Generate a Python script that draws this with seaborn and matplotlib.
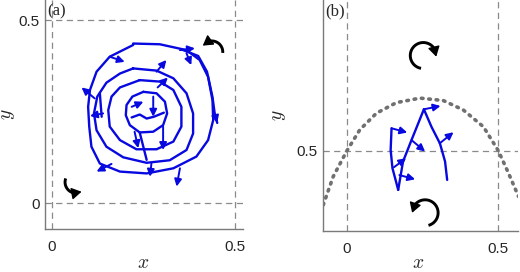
import numpy as np
import pandas as pd
import seaborn as sns
import matplotlib
matplotlib.use("Agg")
import matplotlib.pyplot as plt
from matplotlib.patches import FancyArrowPatch
from matplotlib.transforms import Affine2D, ScaledTranslation

# ---------------- data: panel (a) ----------------
outer_x = [0.222, 0.295, 0.368, 0.404, 0.427, 0.439, 0.441, 0.427, 0.395, 0.332, 0.259, 0.186, 0.131, 0.108, 0.102, 0.099, 0.104, 0.122, 0.158, 0.222]
outer_y = [0.436, 0.434, 0.418, 0.391, 0.345, 0.281, 0.227, 0.172, 0.127, 0.095, 0.081, 0.086, 0.108, 0.154, 0.209, 0.263, 0.309, 0.359, 0.400, 0.432]
rstroke_x = [0.354, 0.400, 0.424, 0.439, 0.445, 0.452]
rstroke_y = [0.420, 0.402, 0.359, 0.290, 0.245, 0.219]
loop2_x = [0.222, 0.286, 0.332, 0.368, 0.386, 0.386, 0.368, 0.322, 0.259, 0.195, 0.149, 0.122, 0.115, 0.124, 0.149, 0.186, 0.222]
loop2_y = [0.368, 0.362, 0.341, 0.300, 0.245, 0.190, 0.145, 0.117, 0.110, 0.125, 0.154, 0.199, 0.245, 0.291, 0.329, 0.354, 0.368]
loop3_x = [0.240, 0.295, 0.332, 0.354, 0.354, 0.332, 0.286, 0.231, 0.186, 0.158, 0.154, 0.163, 0.186, 0.240]
loop3_y = [0.336, 0.332, 0.309, 0.263, 0.209, 0.168, 0.147, 0.147, 0.172, 0.209, 0.254, 0.291, 0.316, 0.336]
inner_x = [0.250, 0.286, 0.309, 0.315, 0.304, 0.277, 0.240, 0.213, 0.202, 0.204, 0.220, 0.250]
inner_y = [0.304, 0.300, 0.277, 0.245, 0.213, 0.195, 0.193, 0.213, 0.240, 0.268, 0.291, 0.304]
squig_x = [0.218, 0.240, 0.259, 0.279, 0.306]
squig_y = [0.234, 0.242, 0.231, 0.236, 0.247]
conn1_x = [0.240, 0.259]
conn1_y = [0.193, 0.118]
conn2_x = [0.131, 0.136]
conn2_y = [0.300, 0.236]

# arrows (start x, start y, end x, end y)
arr_a_x0 = [0.158, 0.286, 0.289, 0.117, 0.140, 0.277, 0.218, 0.226, 0.304, 0.272, 0.350, 0.163, 0.445, 0.350, 0.368]
arr_a_y0 = [0.400, 0.359, 0.316, 0.286, 0.245, 0.291, 0.263, 0.195, 0.209, 0.108, 0.095, 0.107, 0.245, 0.418, 0.409]
arr_a_x1 = [0.199, 0.313, 0.317, 0.081, 0.104, 0.277, 0.250, 0.236, 0.304, 0.268, 0.341, 0.122, 0.452, 0.391, 0.381]
arr_a_y1 = [0.386, 0.391, 0.343, 0.316, 0.238, 0.236, 0.277, 0.150, 0.145, 0.072, 0.045, 0.086, 0.219, 0.423, 0.377]

# ---------------- data: panel (b) ----------------
bL_x = [0.148, 0.145, 0.151, 0.170]
bL_y = [0.575, 0.503, 0.443, 0.371]
bM_x = [0.170, 0.186, 0.214, 0.255]
bM_y = [0.371, 0.465, 0.536, 0.638]
bR_x = [0.255, 0.280, 0.308, 0.325, 0.332]
bR_y = [0.638, 0.580, 0.525, 0.465, 0.404]
arr_b_x0 = [0.148, 0.255, 0.307, 0.214, 0.156, 0.174]
arr_b_y0 = [0.575, 0.638, 0.525, 0.536, 0.446, 0.420]
arr_b_x1 = [0.200, 0.310, 0.353, 0.259, 0.196, 0.226]
arr_b_y1 = [0.561, 0.649, 0.562, 0.498, 0.476, 0.406]
dot_x = [-0.078, -0.045, 0.0, 0.043, 0.098, 0.164, 0.242, 0.319, 0.385, 0.452, 0.501, 0.535, 0.568]
dot_y = [0.321, 0.415, 0.5, 0.570, 0.625, 0.660, 0.675, 0.667, 0.636, 0.580, 0.501, 0.426, 0.349]

tick_vals = [0, 0.5]
tick_labels = ["0", "0.5"]

# ---------------- styling ----------------
sns.set_style("white")
plt.rcParams["font.family"] = ["Liberation Sans", "DejaVu Sans"]
plt.rcParams["mathtext.fontset"] = "cm"

BLUE = "#0808e0"
GREY = "#8a8a8a"
SPINE = "#7a7a7a"

fig = plt.figure(figsize=(5.2, 2.72), dpi=100)
axA = fig.add_axes([0.0865, 0.158, 0.3805, 0.842])
axB = fig.add_axes([0.621, 0.151, 0.375, 0.849])


def draw_curves(ax, curves):
    rows = []
    for i, (xs, ys) in enumerate(curves):
        for j, (xv, yv) in enumerate(zip(xs, ys)):
            rows.append({"x": xv, "y": yv, "seg": i, "ord": j})
    df = pd.DataFrame(rows)
    sns.lineplot(data=df, x="x", y="y", units="seg", estimator=None, sort=False,
                 color=BLUE, lw=1.7, ax=ax, legend=False, zorder=3,
                 solid_joinstyle="round", solid_capstyle="round")


def draw_arrows(ax, x0, y0, x1, y1):
    for a, b, c, d in zip(x0, y0, x1, y1):
        ax.annotate("", xy=(c, d), xytext=(a, b),
                    arrowprops=dict(arrowstyle="-|>,head_length=0.6,head_width=0.3",
                                    color=BLUE, lw=1.4, shrinkA=0, shrinkB=0,
                                    mutation_scale=7), zorder=4)


def hook(ax, cx, cy, r_px, t1, t2):
    # decorative curved rotation arrow drawn in pixel space around (cx, cy)
    sgn = 1 if t2 > t1 else -1
    t_base = t2 - sgn * 38
    th = np.radians(np.linspace(t1, t_base + sgn * 4, 80))
    trans = Affine2D().scale(r_px / 100.0) + fig.dpi_scale_trans + \
        ScaledTranslation(cx, cy, ax.transData)
    ax.plot(np.cos(th), np.sin(th), transform=trans, color="black", lw=2.1,
            solid_capstyle="butt", zorder=5)
    tb, te = np.radians(t_base), np.radians(t2)
    p = FancyArrowPatch(posA=(np.cos(tb), np.sin(tb)), posB=(np.cos(te), np.sin(te)),
                        arrowstyle="-|>,head_length=0.75,head_width=0.45",
                        mutation_scale=8, lw=1.0, color="black", transform=trans,
                        shrinkA=0, shrinkB=0, zorder=5)
    ax.add_patch(p)


def style_axis(ax, xlim, ylim, hlines, vlines, label, xl_pos, yl_pos):
    ax.set_xlim(*xlim)
    ax.set_ylim(*ylim)
    ax.autoscale(False)
    for v in vlines:
        ax.axvline(v, color=GREY, ls=(0, (5, 3.5)), lw=0.9, zorder=1)
    for h in hlines:
        ax.axhline(h, color=GREY, ls=(0, (5, 3.5)), lw=0.9, zorder=1)
    ax.set_xticks(tick_vals)
    ax.set_xticklabels(tick_labels)
    for s in ["top", "right"]:
        ax.spines[s].set_visible(False)
    for s in ["left", "bottom"]:
        ax.spines[s].set_color(SPINE)
        ax.spines[s].set_linewidth(1.0)
    ax.tick_params(axis="both", length=0, labelsize=11, colors="#262626")
    ax.tick_params(axis="x", pad=8)
    ax.tick_params(axis="y", pad=4)
    ax.set_xlabel("$x$", fontsize=14)
    ax.set_ylabel("$y$", fontsize=14)
    ax.xaxis.set_label_coords(*xl_pos)
    ax.yaxis.set_label_coords(*yl_pos)
    ax.text(0.012, 0.985, label, transform=ax.transAxes, ha="left", va="top",
            fontsize=12, family=["Liberation Serif", "DejaVu Serif"])


# ---- panel (a)
draw_curves(axA, [(outer_x, outer_y), (rstroke_x, rstroke_y), (loop2_x, loop2_y),
                  (loop3_x, loop3_y), (inner_x, inner_y), (squig_x, squig_y),
                  (conn1_x, conn1_y), (conn2_x, conn2_y)])
draw_arrows(axA, arr_a_x0, arr_a_y0, arr_a_x1, arr_a_y1)
style_axis(axA, (-0.019, 0.522), (-0.071, 0.555), [0, 0.5], [0, 0.5], "(a)",
           (0.495, -0.115), (-0.14, 0.5))
axA.set_yticks(tick_vals)
axA.set_yticklabels(tick_labels)
hook(axA, 0.437, 0.413, 11, -5, 145)
hook(axA, 0.066, 0.057, 11, 160, 300)

# ---- panel (b)
sns.lineplot(x=dot_x, y=dot_y, sort=False, estimator=None, color="#707070",
             lw=2.6, ls=(0, (0.45, 1.6)), ax=axB, zorder=2,
             dash_capstyle="round")
draw_curves(axB, [(bL_x, bL_y), (bM_x, bM_y), (bR_x, bR_y)])
draw_arrows(axB, arr_b_x0, arr_b_y0, arr_b_x1, arr_b_y1)
style_axis(axB, (-0.079, 0.566), (0.235, 1.0), [0.5], [0, 0.5], "(b)",
           (0.49, -0.105), (-0.18, 0.5))
axB.set_yticks([0.5])
axB.set_yticklabels(["0.5"])
hook(axB, 0.253, 0.816, 13, 260, -5)
hook(axB, 0.259, 0.295, 13, -75, 180)

fig.savefig("out.png", dpi=100)
